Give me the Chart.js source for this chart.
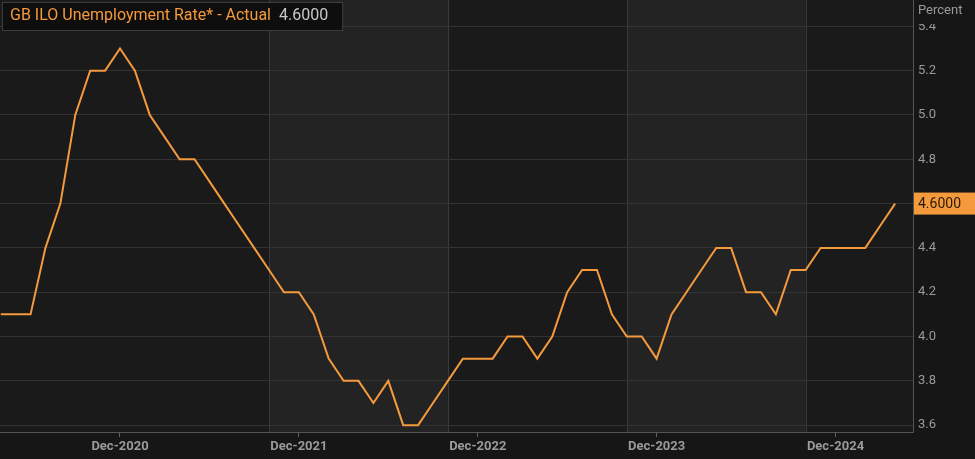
<!DOCTYPE html>
<html>
<head>
<meta charset="utf-8">
<script src="https://cdn.jsdelivr.net/npm/chart.js@4/dist/chart.umd.min.js"></script>
<style>
  html, body { margin: 0; padding: 0; background: #161616; }
  #wrap { width: 975px; height: 459px; position: relative; }
</style>
</head>
<body>
<div id="wrap"><canvas id="ilo"></canvas></div>
<script>
// monthly, Apr-2020 .. Apr-2025
const VALUES = [4.1, 4.1, 4.1, 4.4, 4.6, 5.0, 5.2, 5.2, 5.3, 5.2, 5.0, 4.9, 4.8, 4.8, 4.7, 4.6,
  4.5, 4.4, 4.3, 4.2, 4.2, 4.1, 3.9, 3.8, 3.8, 3.7, 3.8, 3.6, 3.6, 3.7, 3.8, 3.9, 3.9, 3.9,
  4.0, 4.0, 3.9, 4.0, 4.2, 4.3, 4.3, 4.1, 4.0, 4.0, 3.9, 4.1, 4.2, 4.3, 4.4, 4.4, 4.2, 4.2,
  4.1, 4.3, 4.3, 4.4, 4.4, 4.4, 4.4, 4.5, 4.6];
const X_TICK_POS = [8, 20, 32, 44, 56];
const X_TICK_LABELS = ['Dec-2020', 'Dec-2021', 'Dec-2022', 'Dec-2023', 'Dec-2024'];
const Y_TICKS = [3.6, 3.8, 4.0, 4.2, 4.4, 4.6, 4.8, 5.0, 5.2, 5.4];
const BAND_EDGES = [18, 30, 42, 54];

const ORANGE = '#f59a3c';
const TEXT = '#9a9a9a';
const FONT = 'Roboto, "Noto Sans", sans-serif';

const bandsPlugin = {
  id: 'bands',
  beforeDraw(chart) {
    const { ctx, chartArea: a, scales: { x } } = chart;
    ctx.save();
    ctx.fillStyle = '#1a1a1a';
    ctx.fillRect(a.left, 0, a.width, a.bottom);
    ctx.fillStyle = '#232323';
    for (let i = 0; i < BAND_EDGES.length; i += 2) {
      const x0 = x.getPixelForValue(BAND_EDGES[i]);
      const x1 = x.getPixelForValue(BAND_EDGES[i + 1]);
      ctx.fillRect(x0, 0, x1 - x0, a.bottom);
    }
    ctx.strokeStyle = '#3a3a3a';
    ctx.lineWidth = 1;
    BAND_EDGES.forEach(v => {
      const px = Math.round(x.getPixelForValue(v)) + 0.5;
      ctx.beginPath(); ctx.moveTo(px, 0); ctx.lineTo(px, a.bottom); ctx.stroke();
    });
    ctx.restore();
  },
  afterDraw(chart) {
    const { ctx, chartArea: a, scales: { y } } = chart;
    ctx.save();
    // frame
    ctx.strokeStyle = '#555';
    ctx.beginPath();
    ctx.moveTo(a.left, a.bottom + 0.5); ctx.lineTo(a.right + 0.5, a.bottom + 0.5); ctx.lineTo(a.right + 0.5, 0);
    ctx.stroke();
    // cover the 5.4 tick label area (only gridline wanted)
    ctx.fillStyle = '#161616';
    ctx.fillRect(a.right + 1, 0, 975 - a.right, 24);
    // unit
    ctx.font = '13px ' + FONT;
    ctx.fillStyle = TEXT;
    ctx.textBaseline = 'middle';
    ctx.fillText('Percent', a.right + 5, 11);
    // last value tag
    const last = VALUES[VALUES.length - 1];
    const py = y.getPixelForValue(last);
    ctx.fillStyle = ORANGE;
    ctx.fillRect(a.right + 1, py - 11, 975 - a.right, 22);
    ctx.fillStyle = '#2a1a08';
    ctx.font = '14px ' + FONT;
    ctx.fillText(last.toFixed(4), a.right + 5, py + 1);
    // title box
    ctx.font = '16px ' + FONT;
    const t1 = 'GB ILO Unemployment Rate* - Actual';
    const w1 = ctx.measureText(t1).width;
    const t2 = last.toFixed(4);
    const w2 = ctx.measureText(t2).width;
    ctx.fillStyle = '#0e0e0e';
    ctx.fillRect(2, 2, w1 + w2 + 30, 28);
    ctx.strokeStyle = '#3c3c3c';
    ctx.strokeRect(2.5, 2.5, w1 + w2 + 30, 28);
    ctx.fillStyle = ORANGE;
    ctx.fillText(t1, 10, 16);
    ctx.fillStyle = '#c8c8c8';
    ctx.fillText(t2, 10 + w1 + 8, 16);
    ctx.restore();
  }
};

new Chart(document.getElementById('ilo'), {
  type: 'line',
  data: {
    datasets: [{
      data: VALUES.map((v, i) => ({ x: i, y: v })),
      borderColor: ORANGE,
      borderWidth: 2,
      pointRadius: 0,
      tension: 0
    }]
  },
  options: {
    responsive: true,
    maintainAspectRatio: false,
    animation: false,
    layout: { padding: 0 },
    plugins: { legend: { display: false }, tooltip: { enabled: false } },
    scales: {
      x: {
        type: 'linear',
        min: -0.05, max: 61.2,
        afterBuildTicks: s => { s.ticks = X_TICK_POS.map(v => ({ value: v })); },
        afterFit: s => { s.height = 27; },
        border: { display: false },
        grid: { drawOnChartArea: false, drawTicks: true, tickLength: 5, color: '#666' },
        ticks: {
          color: TEXT, font: { family: FONT, size: 13, weight: 'bold' }, padding: 2, maxRotation: 0,
          callback: v => X_TICK_LABELS[X_TICK_POS.indexOf(v)]
        }
      },
      y: {
        position: 'right',
        min: 3.569, max: 5.461,
        afterBuildTicks: s => { s.ticks = Y_TICKS.map(v => ({ value: v })); },
        afterFit: s => { s.width = 62; },
        border: { display: false },
        grid: { color: '#333', drawTicks: false },
        ticks: { color: TEXT, font: { family: FONT, size: 13 }, padding: 5, callback: v => v.toFixed(1) }
      }
    }
  },
  plugins: [bandsPlugin]
});
</script>
</body>
</html>
